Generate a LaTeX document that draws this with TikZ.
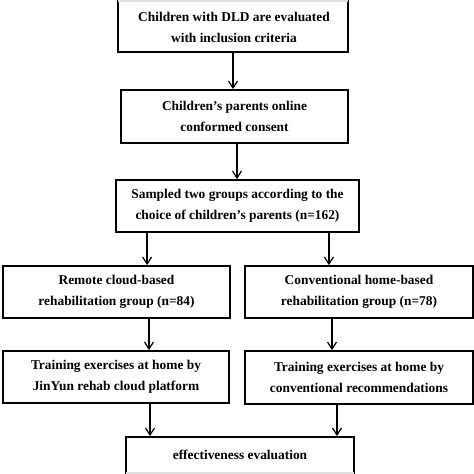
\documentclass[tikz,border=0pt]{standalone}
\usepackage{fontspec}
\setmainfont{Liberation Serif}
\usetikzlibrary{arrows.meta,calc}
\begin{document}
\begin{tikzpicture}[x=1bp,y=-1bp,
  box/.style={draw=black,line width=1.8bp,minimum height=52bp,inner sep=0pt,align=center,
    font=\fontsize{13.4bp}{21bp}\selectfont\bfseries},
  arr/.style={line width=1.4bp,-{Straight Barb[length=7bp,width=9bp,line width=1.2bp]}}]
\useasboundingbox (0,0) rectangle (474,474);
\node[box,minimum width=230bp,minimum height=53bp] (B1) at (233,25.5) {};
\fill[black!12] ([xshift=1bp,yshift=-0.1bp]B1.north west) rectangle ([xshift=-1bp]B1.north east |- 0,2.2);
\node[font=\fontsize{13.4bp}{21bp}\selectfont\bfseries,align=center] (T1) at (234,27.5) {Children with DLD are evaluated\\with inclusion criteria};
\node[box,minimum width=227bp,minimum height=53bp] (B2) at (234.5,116.5) {Children's parents online\\conformed consent};
\node[box,minimum width=243bp] (B3) at (237.5,206) {Sampled two groups according to the\\choice of children's parents (n=162)};
\node[box,minimum width=227bp] (BL) at (116.5,292) {Remote cloud-based\\rehabilitation group (n=84)};
\node[box,minimum width=228bp] (BR) at (359,292) {Conventional home-based\\rehabilitation group (n=78)};
\node[box,minimum width=226bp] (BL2) at (116,377) {Training exercises at home by\\JinYun rehab cloud platform};
\node[box,minimum width=228bp,minimum height=53bp] (BR2) at (359,377.5) {Training exercises at home by\\conventional recommendations};
\node[box,minimum width=228bp,minimum height=46bp] (B5) at (240,460) {};
\fill[black!12] ([xshift=1bp]B5.west |- 0,471.5) rectangle ([xshift=-1bp]B5.east |- 0,474);
\node[font=\fontsize{13.4bp}{21bp}\selectfont\bfseries] (T5) at (240,455) {effectiveness evaluation};
\draw[arr] (B1.south) -- (B1.south |- B2.north);
\draw[arr] ([xshift=2.5bp]B2.south) -- ([xshift=2.5bp]B2.south |- B3.north);
\draw[arr] ([xshift=32bp]B3.south west) -- ([xshift=32bp]B3.south west |- BL.north);
\draw[arr] ([xshift=-31bp]B3.south east) -- ([xshift=-31bp]B3.south east |- BR.north);
\draw[arr] ([xshift=32.5bp]BL.south) -- ([xshift=32.5bp]BL.south |- BL2.north);
\draw[arr] ([xshift=-27bp]BR.south) -- ([xshift=-27bp]BR.south |- BR2.north);
\draw[arr] ([xshift=34bp]BL2.south) -- ([xshift=34bp]BL2.south |- B5.north);
\draw[arr] ([xshift=-22bp]BR2.south) -- ([xshift=-22bp]BR2.south |- B5.north);
\end{tikzpicture}
\end{document}
